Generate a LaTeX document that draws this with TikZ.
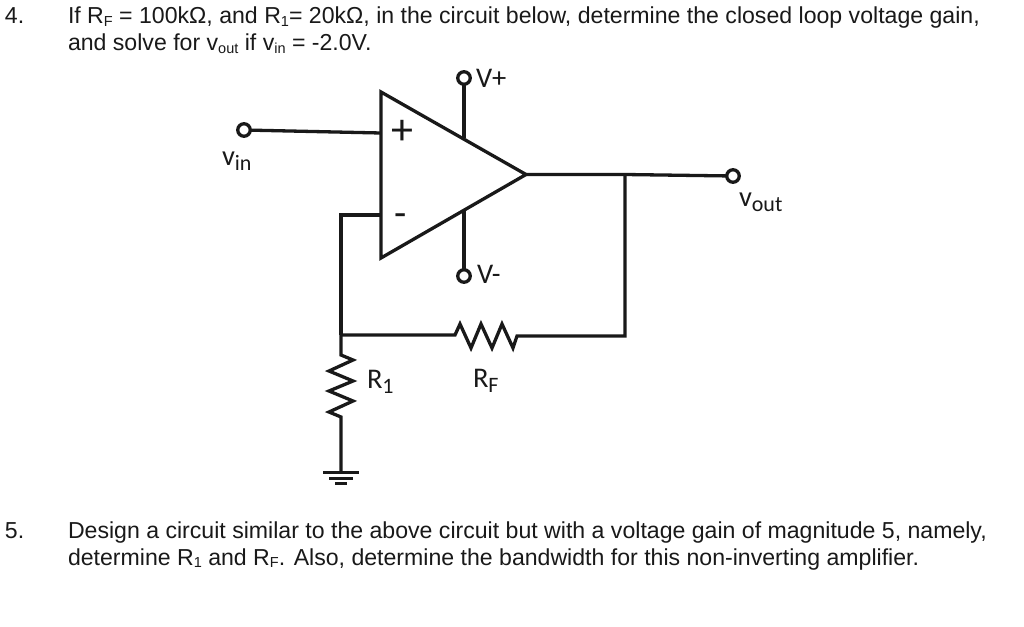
\documentclass[tikz,border=0pt]{standalone}
\usepackage{fontspec}
\setmainfont{Liberation Sans}
\newfontfamily\crl{Carlito}
\newcommand{\lowsub}[1]{\raisebox{-0.1em}{\fontsize{14.5}{15}\selectfont #1}}
\newcommand{\csub}[1]{\raisebox{-0.2em}{\fontsize{22}{22}\selectfont #1}}
\tikzset{
  body/.style={anchor=base west,inner sep=0pt,outer sep=0pt,font=\fontsize{23.1}{27}\selectfont,text=black!90},
  lab/.style={anchor=base west,inner sep=0pt,outer sep=0pt,font=\crl\fontsize{28.5}{30}\selectfont,text=black!90},
  wire/.style={line width=3.3pt,black!90,line join=miter},
  gline/.style={line width=3pt,black!90},
  term/.style={circle,draw=black!90,fill=white,line width=3.3pt,minimum size=12.5pt,inner sep=0pt,outer sep=0pt}
}
\begin{document}
\begin{tikzpicture}[x=1pt,y=-1pt]
\useasboundingbox (0,0) rectangle (1024,626);
\fill[white] (0,0) rectangle (1024,626);
% text
\node[body] (n4) at (5,24) {4.};
\node[body] (l1) at (68,24) {If R\lowsub{F} = 100kΩ, and R\lowsub{1}= 20kΩ, in the circuit below, determine the closed loop voltage gain,};
\node[body] (l2) at (68,51) {and solve for v\lowsub{out} if v\lowsub{in} = -2.0V.};
\node[body] (n5) at (5,538) {5.};
\node[body] (l3) at (68,538) {Design a circuit similar to the above circuit but with a voltage gain of magnitude 5, namely,};
\node[body] (l4) at (68,565) {determine R\lowsub{1} and R\lowsub{F}. Also, determine the bandwidth for this non-inverting amplifier.};
% coordinates
\coordinate (tl) at (381,92);
\coordinate (bl) at (381,258);
\coordinate (tip) at (526,174.5);
\coordinate (pin) at (381,133);
\coordinate (nin) at (381,215);
\coordinate (ncor) at (341,215);
\coordinate (jn) at (341,335);
\coordinate (top) at (464,138);
\coordinate (bot) at (464,210);
\coordinate (jo) at (625,174.5);
\coordinate (cor) at (625,336);
\coordinate (gnd) at (341,472);
\node[term] (vin) at (244,130) {};
\node[term] (vp) at (464,78) {};
\node[term] (vm) at (464,276) {};
\node[term] (vout) at (733,176) {};
% wires
\draw[wire] (vin) -- (pin);
\draw[wire] (vp) -- (top);
\draw[wire] (vm) -- (bot);
\draw[wire] (tip) -- (jo) -- (vout);
\draw[wire] (nin) -- (ncor) -- (jn);
\draw[wire] (tl) -- (tip) -- (bl) -- cycle;
% RF
\draw[wire] (jn) -- (455,335) -- (460,324) -- (471,348) -- (481,324) -- (492,348) -- (502,324) -- (513,348) -- (517,336) -- (cor) -- (jo);
% R1
\draw[wire] (jn) -- (341,355) -- (353,360) -- (329,371) -- (353,381) -- (329,391) -- (353,401) -- (329,412) -- (341,417) -- (gnd);
% ground
\draw[gline] (323,472) -- (359,472);
\draw[gline] (329,478) -- (353,478);
\draw[gline] (335,483.5) -- (347,483.5);
% labels
\node[inner sep=0pt,font=\crl\fontsize{44}{44}\selectfont,text=black!90] (plus) at (402,132) {+};
\node[inner sep=0pt,font=\crl\fontsize{40}{40}\selectfont,text=black!90] (minus) at (401,220) {-};
\node[lab] (lvp) at (476,87) {V+};
\node[lab] (lvm) at (477,283) {V-};
\node[lab] (lvin) at (222,165) {v\csub{in}};
\node[lab] (lvout) at (739,206) {v\csub{out}};
\node[lab] (lr1) at (367,388) {R\csub{1}};
\node[lab] (lrf) at (473,387) {R\csub{F}};
\end{tikzpicture}
\end{document}
